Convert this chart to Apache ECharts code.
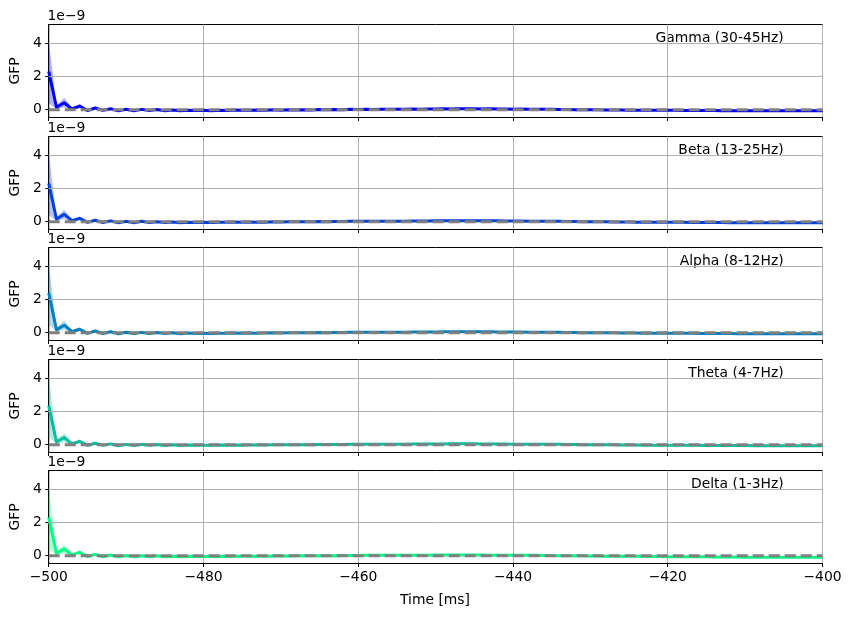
<!DOCTYPE html>
<html>
<head>
<meta charset="utf-8">
<script src="https://cdn.jsdelivr.net/npm/echarts@6/dist/echarts.min.js"></script>
<style>html,body{margin:0;padding:0;background:#fff}#c{width:852px;height:617px}</style>
</head>
<body>
<div id="c"></div>
<script>
// ---- data (GFP in units of 1e-9) ----
const bandNames = ['Gamma (30-45Hz)', 'Beta (13-25Hz)', 'Alpha (8-12Hz)', 'Theta (4-7Hz)', 'Delta (1-3Hz)'];
const bandColors = ['#0000ff', '#0040df', '#0080bf', '#00bf9f', '#00ff80'];
const xTicks = [-500, -480, -460, -440, -420, -400];
const yTicks = [0, 2, 4];
const times = Array.from({length: 101}, (_, i) => -500 + i); // ms sample grid

const gammaMean = [
  2.30, 0.15, 0.42, 0.05, 0.22, -0.05, 0.10, -0.04, 0.06, -0.07,
  0.03, -0.06, 0.02, -0.05, 0.01, -0.06, -0.02, -0.07, -0.03, -0.05,
  -0.04, -0.06, -0.03, -0.05, -0.02, -0.04, -0.03, -0.02, -0.04, -0.01,
  -0.03, -0.01, -0.02, 0.00, -0.02, 0.01, -0.01, 0.01, 0.00, 0.02,
  0.01, 0.02, 0.01, 0.03, 0.02, 0.03, 0.02, 0.04, 0.03, 0.04,
  0.04, 0.05, 0.04, 0.05, 0.05, 0.05, 0.04, 0.05, 0.04, 0.04,
  0.03, 0.04, 0.03, 0.03, 0.02, 0.02, 0.01, 0.01, 0.00, 0.00,
  -0.01, -0.01, -0.02, -0.02, -0.02, -0.03, -0.03, -0.03, -0.04, -0.04,
  -0.04, -0.04, -0.05, -0.05, -0.05, -0.05, -0.05, -0.06, -0.06, -0.06,
  -0.06, -0.06, -0.06, -0.07, -0.07, -0.07, -0.07, -0.07, -0.07, -0.07,
  -0.07
];
const betaMean = [
  2.30, 0.16, 0.44, 0.06, 0.20, -0.04, 0.09, -0.05, 0.05, -0.06,
  0.02, -0.06, 0.03, -0.05, 0.00, -0.05, -0.02, -0.06, -0.03, -0.05,
  -0.04, -0.05, -0.03, -0.04, -0.02, -0.04, -0.02, -0.03, -0.03, -0.01,
  -0.02, -0.01, -0.01, 0.00, -0.01, 0.01, 0.00, 0.01, 0.01, 0.02,
  0.02, 0.02, 0.02, 0.03, 0.03, 0.03, 0.03, 0.04, 0.04, 0.04,
  0.05, 0.05, 0.05, 0.05, 0.06, 0.05, 0.05, 0.05, 0.05, 0.04,
  0.04, 0.04, 0.03, 0.03, 0.03, 0.02, 0.02, 0.01, 0.01, 0.00,
  0.00, -0.01, -0.01, -0.02, -0.02, -0.02, -0.03, -0.03, -0.03, -0.04,
  -0.04, -0.04, -0.04, -0.05, -0.05, -0.05, -0.05, -0.05, -0.06, -0.06,
  -0.06, -0.06, -0.06, -0.06, -0.06, -0.07, -0.07, -0.07, -0.07, -0.07,
  -0.07
];
const alphaMean = [
  2.40, 0.18, 0.45, 0.06, 0.21, -0.04, 0.10, -0.05, 0.06, -0.06,
  0.03, -0.05, 0.02, -0.05, 0.01, -0.05, -0.01, -0.06, -0.02, -0.05,
  -0.03, -0.05, -0.03, -0.04, -0.02, -0.03, -0.02, -0.03, -0.02, -0.01,
  -0.02, -0.01, -0.01, 0.00, 0.00, 0.01, 0.00, 0.01, 0.01, 0.02,
  0.02, 0.02, 0.02, 0.03, 0.03, 0.03, 0.03, 0.04, 0.04, 0.04,
  0.04, 0.05, 0.05, 0.05, 0.05, 0.05, 0.05, 0.05, 0.04, 0.04,
  0.04, 0.04, 0.03, 0.03, 0.03, 0.02, 0.02, 0.01, 0.01, 0.00,
  0.00, -0.01, -0.01, -0.01, -0.02, -0.02, -0.02, -0.03, -0.03, -0.03,
  -0.04, -0.04, -0.04, -0.04, -0.05, -0.05, -0.05, -0.05, -0.05, -0.06,
  -0.06, -0.06, -0.06, -0.06, -0.06, -0.06, -0.06, -0.07, -0.07, -0.07,
  -0.07
];
const thetaMean = [
  2.35, 0.17, 0.43, 0.05, 0.20, -0.04, 0.09, -0.04, 0.05, -0.06,
  0.02, -0.05, 0.02, -0.04, 0.01, -0.05, -0.01, -0.05, -0.02, -0.04,
  -0.03, -0.04, -0.02, -0.04, -0.02, -0.03, -0.02, -0.02, -0.02, -0.01,
  -0.01, -0.01, 0.00, 0.00, 0.00, 0.01, 0.01, 0.01, 0.01, 0.02,
  0.02, 0.02, 0.02, 0.03, 0.03, 0.03, 0.03, 0.04, 0.04, 0.04,
  0.04, 0.04, 0.05, 0.05, 0.05, 0.05, 0.04, 0.04, 0.04, 0.04,
  0.03, 0.03, 0.03, 0.03, 0.02, 0.02, 0.02, 0.01, 0.01, 0.00,
  0.00, 0.00, -0.01, -0.01, -0.02, -0.02, -0.02, -0.03, -0.03, -0.03,
  -0.03, -0.04, -0.04, -0.04, -0.04, -0.05, -0.05, -0.05, -0.05, -0.05,
  -0.05, -0.06, -0.06, -0.06, -0.06, -0.06, -0.06, -0.06, -0.06, -0.06,
  -0.06
];
const deltaMean = [
  2.30, 0.15, 0.40, 0.05, 0.20, -0.05, 0.08, -0.06, 0.04, -0.07,
  0.01, -0.07, 0.00, -0.06, -0.01, -0.06, -0.03, -0.06, -0.04, -0.05,
  -0.05, -0.05, -0.04, -0.05, -0.03, -0.04, -0.03, -0.03, -0.03, -0.02,
  -0.02, -0.02, -0.01, -0.01, -0.01, 0.00, 0.00, 0.00, 0.01, 0.01,
  0.01, 0.02, 0.02, 0.02, 0.02, 0.03, 0.03, 0.03, 0.03, 0.03,
  0.04, 0.04, 0.04, 0.04, 0.04, 0.04, 0.04, 0.03, 0.03, 0.03,
  0.03, 0.02, 0.02, 0.02, 0.01, 0.01, 0.00, 0.00, -0.01, -0.01,
  -0.02, -0.02, -0.03, -0.03, -0.03, -0.04, -0.04, -0.05, -0.05, -0.05,
  -0.06, -0.06, -0.06, -0.07, -0.07, -0.07, -0.08, -0.08, -0.08, -0.08,
  -0.09, -0.09, -0.09, -0.09, -0.09, -0.10, -0.10, -0.10, -0.10, -0.10,
  -0.10
];
// half-width of the shaded confidence band
const bandHalfWidth = [
  1.90, 0.12, 0.28, 0.08, 0.12, 0.06, 0.08, 0.05, 0.06, 0.05,
  0.05, 0.05, 0.05, 0.05, 0.04, 0.05, 0.04, 0.04, 0.04, 0.04,
  0.04, 0.04, 0.04, 0.04, 0.04, 0.04, 0.04, 0.04, 0.04, 0.04,
  0.04, 0.04, 0.04, 0.04, 0.04, 0.04, 0.04, 0.04, 0.04, 0.04,
  0.04, 0.04, 0.04, 0.04, 0.04, 0.04, 0.04, 0.04, 0.04, 0.04,
  0.04, 0.04, 0.04, 0.04, 0.04, 0.04, 0.04, 0.04, 0.04, 0.04,
  0.04, 0.04, 0.04, 0.04, 0.04, 0.04, 0.04, 0.04, 0.04, 0.04,
  0.04, 0.04, 0.04, 0.04, 0.04, 0.04, 0.04, 0.04, 0.04, 0.04,
  0.04, 0.04, 0.04, 0.04, 0.04, 0.04, 0.04, 0.04, 0.04, 0.04,
  0.04, 0.04, 0.04, 0.04, 0.04, 0.04, 0.04, 0.04, 0.04, 0.04,
  0.04
];
const bandMeans = [gammaMean, betaMean, alphaMean, thetaMean, deltaMean];
const zeroLine = [0, 0];
const yRange = [-0.47, 5.13];

// ---- layout ----
const FONT = 'DejaVu Sans';
const FS = 13.9;
const L = 47.5, W = 775, H = 93;
const tops = [24.5, 136.5, 247.5, 359.5, 470.5];

function hexA(hex, a) {
  const n = parseInt(hex.slice(1), 16);
  return `rgba(${(n >> 16) & 255},${(n >> 8) & 255},${n & 255},${a})`;
}

const grid = [], xAxis = [], yAxis = [], series = [], graphic = [];
tops.forEach((t, i) => {
  grid.push({left: L, top: t, width: W, height: H, show: true, borderColor: '#000', borderWidth: 1, backgroundColor: 'rgba(0,0,0,0)'});
  xAxis.push({
    type: 'value', gridIndex: i, min: xTicks[0], max: xTicks[xTicks.length - 1], interval: 20,
    axisLine: {show: true, onZero: false, lineStyle: {color: '#000', width: 1}},
    axisTick: {show: true, length: 3.5, lineStyle: {color: '#000', width: 1}},
    axisLabel: {show: i === 4, margin: 7, color: '#000', fontFamily: FONT, fontSize: FS,
      formatter: v => String(v).replace('-', '\u2212')},
    splitLine: {show: true, lineStyle: {color: '#b0b0b0', width: 1}}
  });
  yAxis.push({
    type: 'value', gridIndex: i, min: yRange[0], max: yRange[1],
    name: 'GFP', nameLocation: 'middle', nameGap: 23, nameRotate: 90,
    nameTextStyle: {color: '#000', fontFamily: FONT, fontSize: FS},
    axisLine: {show: true, onZero: false, lineStyle: {color: '#000', width: 1}},
    axisTick: {show: true, length: 3.5, customValues: yTicks, lineStyle: {color: '#000', width: 1}},
    axisLabel: {show: true, margin: 7, customValues: yTicks, color: '#000', fontFamily: FONT, fontSize: FS},
    splitLine: {show: false}
  });
  const mean = bandMeans[i];
  const col = bandColors[i];
  // shaded band (mean ± half-width) as one polygon through the axes' scales
  series.push({
    type: 'custom', xAxisIndex: i, yAxisIndex: i, silent: true, clip: true,
    data: [[times[0], mean[0]]],
    renderItem: (params, api) => {
      const upper = times.map((x, k) => api.coord([x, mean[k] + bandHalfWidth[k]]));
      const lower = times.map((x, k) => api.coord([x, mean[k] - bandHalfWidth[k]])).reverse();
      return {type: 'polygon', shape: {points: upper.concat(lower)}, style: {fill: hexA(col, 0.3), stroke: null}};
    },
    z: 1
  });
  // horizontal grid lines at y ticks
  series.push({
    type: 'line', xAxisIndex: i, yAxisIndex: i, data: [], silent: true,
    markLine: {silent: true, symbol: 'none', label: {show: false},
      lineStyle: {color: '#b0b0b0', width: 1, type: 'solid'},
      data: yTicks.filter(v => v !== 0).map(v => ({yAxis: v}))},
    z: 2
  });
  series.push({
    type: 'line', xAxisIndex: i, yAxisIndex: i, symbol: 'none', silent: true,
    lineStyle: {color: col, width: 3, join: 'round'},
    data: times.map((x, k) => [x, mean[k]]), z: 3
  });
  series.push({
    type: 'line', xAxisIndex: i, yAxisIndex: i, symbol: 'none', silent: true,
    lineStyle: {color: '#808080', width: 3, type: [11, 5], cap: 'butt'},
    data: [[xTicks[0], zeroLine[0]], [xTicks[xTicks.length - 1], zeroLine[1]]], z: 4
  });
  graphic.push({
    type: 'text', x: L + 0.95 * W, y: t + 0.15 * H,
    style: {text: bandNames[i], font: `${FS}px "${FONT}"`, fill: '#000', align: 'right', verticalAlign: 'middle'}
  });
  graphic.push({
    type: 'text', x: L, y: t - 1,
    style: {text: '1e\u22129', font: `${FS}px "${FONT}"`, fill: '#000', align: 'left', verticalAlign: 'bottom'}
  });
});
graphic.push({
  type: 'text', x: L + W / 2, y: 600,
  style: {text: 'Time [ms]', font: `${FS}px "${FONT}"`, fill: '#000', align: 'center', verticalAlign: 'middle'}
});

const chart = echarts.init(document.getElementById('c'), null, {renderer: 'canvas'});
chart.setOption({animation: false, backgroundColor: '#fff', grid, xAxis, yAxis, series, graphic});
</script>
</body>
</html>
